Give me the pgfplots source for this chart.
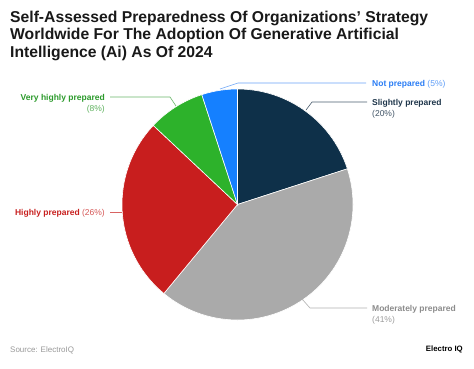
\documentclass[border=0pt]{standalone}
\usepackage{fontspec}
\setmainfont{Liberation Sans}
\usepackage{pgfplots}
\pgfplotsset{compat=1.18}
\definecolor{cnavy}{HTML}{0E3049}
\definecolor{cgray}{HTML}{AAAAAA}
\definecolor{cred}{HTML}{C81E1E}
\definecolor{cgreen}{HTML}{2DB22B}
\definecolor{cblue}{HTML}{1580FF}
\definecolor{tnavy}{HTML}{1F364B}
\definecolor{tgray}{HTML}{8C8C8C}
\definecolor{tred}{HTML}{C8201F}
\definecolor{tgreen}{HTML}{2B9A2B}
\definecolor{tblue}{HTML}{2A7DF5}
% shares (%)
\def\vA{20}  % Slightly prepared
\def\vB{41}  % Moderately prepared
\def\vC{26}  % Highly prepared
\def\vD{8}   % Very highly prepared
\def\vE{5}   % Not prepared
\begin{document}
\begin{tikzpicture}[x=1bp,y=1bp]
\path[fill=white,use as bounding box] (0,0) rectangle (474,368);
\begin{axis}[at={(237.5bp,163.5bp)}, anchor=center, scale only axis,
  width=231bp, height=231bp, xmin=-1, xmax=1, ymin=-1, ymax=1,
  hide axis, clip=false]
\addplot[fill=cnavy, draw=white, line width=0.6pt, domain={90-3.6*\vA}:90, samples=90, variable=\t]
  ({cos(\t)},{sin(\t)}) -- (axis cs:0,0) -- cycle;
\addplot[fill=cgray, draw=white, line width=0.6pt, domain={90-3.6*(\vA+\vB)}:{90-3.6*\vA}, samples=150, variable=\t]
  ({cos(\t)},{sin(\t)}) -- (axis cs:0,0) -- cycle;
\addplot[fill=cred, draw=white, line width=0.6pt, domain={90-3.6*(\vA+\vB+\vC)}:{90-3.6*(\vA+\vB)}, samples=100, variable=\t]
  ({cos(\t)},{sin(\t)}) -- (axis cs:0,0) -- cycle;
\addplot[fill=cgreen, draw=white, line width=0.6pt, domain={90-3.6*(\vA+\vB+\vC+\vD)}:{90-3.6*(\vA+\vB+\vC)}, samples=40, variable=\t]
  ({cos(\t)},{sin(\t)}) -- (axis cs:0,0) -- cycle;
\addplot[fill=cblue, draw=white, line width=0.6pt, domain={90-3.6*(\vA+\vB+\vC+\vD+\vE)}:{90-3.6*(\vA+\vB+\vC+\vD)}, samples=30, variable=\t]
  ({cos(\t)},{sin(\t)}) -- (axis cs:0,0) -- cycle;
\end{axis}
% title
\begin{scope}[every node/.style={anchor=base west, inner sep=0pt, font=\fontsize{15.7bp}{18bp}\selectfont\bfseries, text=black!90}]
\node at (10,346) {Self-Assessed Preparedness Of Organizations\char"27{} Strategy};
\node at (10,328.5) {Worldwide For The Adoption Of Generative Artificial};
\node at (10,311) {Intelligence (Ai) As Of 2024};
\end{scope}
% leaders
\draw[tblue!70, line width=0.6pt] (220,279) -- (238,285) -- (366,285);
\draw[tnavy!80, line width=0.6pt] (306,258) -- (312,266) -- (367,266);
\draw[cgray!90, line width=0.6pt] (302,69) -- (310,60) -- (367,60);
\draw[tred!70, line width=0.6pt] (110,156) -- (122,156);
\draw[tgreen!70, line width=0.6pt] (176,262) -- (170,271) -- (110,271);
% labels
\begin{scope}[every node/.style={inner sep=0pt, font=\fontsize{8.5bp}{10bp}\selectfont}]
\node[anchor=base west, text=tblue] at (372,281.3) {\textbf{Not prepared} \textcolor{tblue!75}{(5\%)}};
\node[anchor=base west, text=tnavy] at (372,262.3) {\textbf{Slightly prepared}};
\node[anchor=base west, text=tnavy!85] at (372,251.5) {(20\%)};
\node[anchor=base west, text=tgray] at (372,57) {\textbf{Moderately prepared}};
\node[anchor=base west, text=tgray!85] at (372,45.5) {(41\%)};
\node[anchor=base east, text=tred] at (105,153) {\textbf{Highly prepared} \textcolor{tred!75}{(26\%)}};
\node[anchor=base east, text=tgreen] at (105,267.3) {\textbf{Very highly prepared}};
\node[anchor=base east, text=tgreen!75] at (105,256.3) {(8\%)};
\node[anchor=base west, text=black!40, font=\fontsize{8bp}{10bp}\selectfont] at (10,15.3) {Source: ElectroIQ};
\node[anchor=base east, text=black, font=\fontsize{7.8bp}{9bp}\selectfont\bfseries] at (463,17) {Electro IQ};
\end{scope}
\end{tikzpicture}
\end{document}
